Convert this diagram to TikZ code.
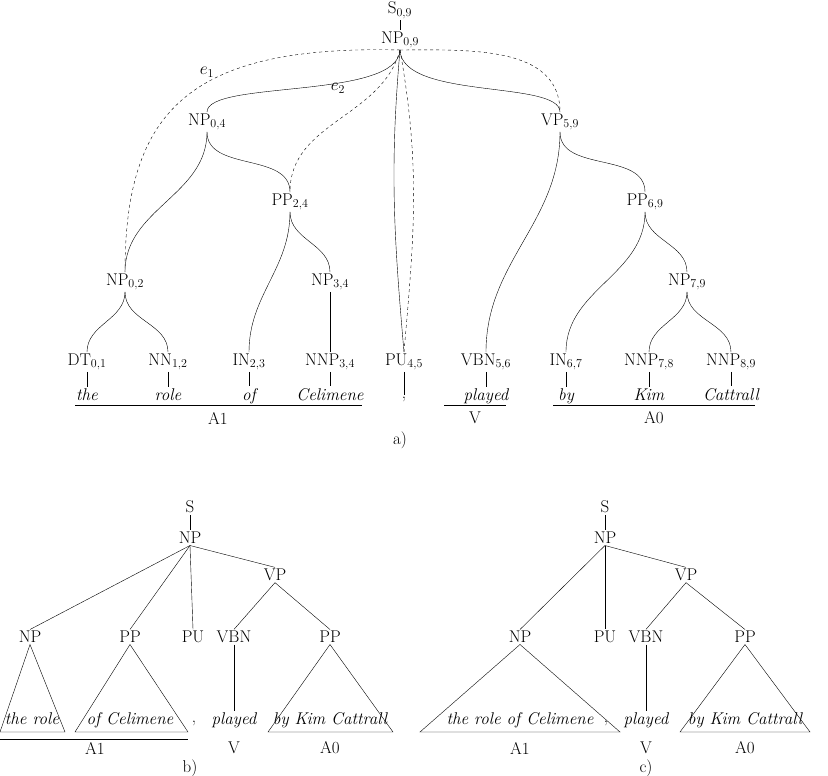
\documentclass[tikz,border=0pt]{standalone}
\begin{document}
\begin{tikzpicture}[x=1pt,y=-1pt,
  every node/.style={font=\fontsize{17}{19}\selectfont,inner sep=1.5pt},
  wd/.style={font=\fontsize{17}{19}\selectfont\itshape},
  cv/.style={out=-90,in=90},
  dsh/.style={dashed}]
\useasboundingbox (0,0) rectangle (828,776);
% ---------- a)
\node (s) at (400,10) {S$_{0,9}$};
\node (np09) at (400,40) {NP$_{0,9}$};
\node (np04) at (207,122) {NP$_{0,4}$};
\node (vp59) at (560,122) {VP$_{5,9}$};
\node (pp24) at (290,202) {PP$_{2,4}$};
\node (pp69) at (645,202) {PP$_{6,9}$};
\node (np02) at (125,282) {NP$_{0,2}$};
\node (np34) at (330,282) {NP$_{3,4}$};
\node (np79) at (687,282) {NP$_{7,9}$};
\node (dt) at (87,362) {DT$_{0,1}$};
\node (nn) at (168,362) {NN$_{1,2}$};
\node (in23) at (249,362) {IN$_{2,3}$};
\node (nnp34) at (330,362) {NNP$_{3,4}$};
\node (pu) at (404,362) {PU$_{4,5}$};
\node (vbn) at (486,362) {VBN$_{5,6}$};
\node (in67) at (566,362) {IN$_{6,7}$};
\node (nnp78) at (649,362) {NNP$_{7,8}$};
\node (nnp89) at (731,362) {NNP$_{8,9}$};
\foreach \n/\w/\x in {w1/the/87,w2/role/168,w3/of/249,w4/Celimene/330,w6/played/486,w7/by/566,w8/Kim/649,w9/Cattrall/731}
  \node[wd,anchor=base] (\n) at (\x,400) {\w};
\node[anchor=base] (w5) at (404,398) {,};
\foreach \a/\b in {dt/w1,nn/w2,in23/w3,nnp34/w4,pu/w5,vbn/w6,in67/w7,nnp78/w8,nnp89/w9}
  \draw (\a.south) -- (\b.north);
\draw (s.south) -- (np09.north);
\draw (np34.south) -- (nnp34.north);
\foreach \a/\b in {np04/np02,np04/pp24,pp24/in23,pp24/np34,np02/dt,np02/nn,vp59/vbn,vp59/pp69,pp69/in67,pp69/np79,np79/nnp78,np79/nnp89}
  \draw (\a.south) to[cv] (\b.north);
\draw (np09.south) .. controls (398,100) and (207,80) .. (np04.north);
\draw (np09.south) .. controls (402,100) and (560,80) .. (vp59.north);
\draw (np09.south) to[out=-95,in=95] (pu.north);
\draw[dsh] (np09.south) .. controls (190,45) and (125,110) .. (np02.north);
\draw[dsh] (np09.south) to[out=0,in=90] (vp59.north);
\draw[dsh] (np09.south) to[out=-105,in=90] (pp24.north);
\draw[dsh] (np09.south) to[out=-80,in=85] (pu.north);
\node at (207,72) {$e_1$};
\node at (338,88) {$e_2$};
\coordinate (a1l) at (75,405); \coordinate (a1r) at (362,405);
\coordinate (vl) at (444,405); \coordinate (vr) at (506,405);
\coordinate (a0l) at (553,405); \coordinate (a0r) at (755,405);
\draw (a1l) -- (a1r); \draw (vl) -- (vr); \draw (a0l) -- (a0r);
\node (la1) at (218,418) {A1};
\node (lv) at (475,418) {V};
\node (la0) at (654,418) {A0};
\node (capa) at (400,440) {a)};
% ---------- b)
\node (bs) at (190,507) {S};
\node (bnp) at (190,538) {NP};
\node (bnp1) at (30,637) {NP};
\node (bpp1) at (130,637) {PP};
\node (bpu) at (193,637) {PU};
\node (bvp) at (275,575) {VP};
\node (bvbn) at (234,637) {VBN};
\node (bpp2) at (330,637) {PP};
\draw (bs.south) -- (bnp.north);
\foreach \c in {bnp1,bpp1,bpu,bvp} \draw (bnp.south) -- (\c.north);
\foreach \c in {bvbn,bpp2} \draw (bvp.south) -- (\c.north);
\draw (bnp1.south) -- (0,732) -- (65,732) -- cycle;
\draw (bpp1.south) -- (75,732) -- (188,732) -- cycle;
\draw (bpp2.south) -- (268,732) -- (393,732) -- cycle;
\node[wd,anchor=base] (bt1) at (32,724) {the role};
\node[wd,anchor=base] (bt2) at (130,724) {of Celimene};
\node[wd,anchor=base] (bt3) at (330,724) {by Kim Cattrall};
\node[anchor=base] (bcm) at (194,722) {,};
\node[wd,anchor=base] (bpl) at (234,724) {played};
\draw (bvbn.south) -- (bpl.north);
\draw (0,739) -- (188,739);
\node (bla1) at (95,748) {A1};
\node (blv) at (234,748) {V};
\node (bla0) at (330,748) {A0};
\node (capb) at (190,768) {b)};
% ---------- c)
\node (cs) at (605,507) {S};
\node (cnp) at (605,538) {NP};
\node (cnp1) at (520,637) {NP};
\node (cpu) at (605,637) {PU};
\node (cvp) at (686,575) {VP};
\node (cvbn) at (646,637) {VBN};
\node (cpp) at (745,637) {PP};
\draw (cs.south) -- (cnp.north);
\foreach \c in {cnp1,cpu,cvp} \draw (cnp.south) -- (\c.north);
\foreach \c in {cvbn,cpp} \draw (cvp.south) -- (\c.north);
\draw (cnp1.south) -- (420,732) -- (620,732) -- cycle;
\draw (cpp.south) -- (680,732) -- (810,732) -- cycle;
\node[wd,anchor=base] (ct1) at (520,724) {the role of Celimene};
\node[wd,anchor=base] (ct2) at (745,724) {by Kim Cattrall};
\node[anchor=base] (ccm) at (606,722) {,};
\node[wd,anchor=base] (cpl) at (646,724) {played};
\draw (cvbn.south) -- (cpl.north);
\node (cla1) at (520,748) {A1};
\node (clv) at (646,748) {V};
\node (cla0) at (745,748) {A0};
\node (capc) at (646,768) {c)};
\end{tikzpicture}
\end{document}
